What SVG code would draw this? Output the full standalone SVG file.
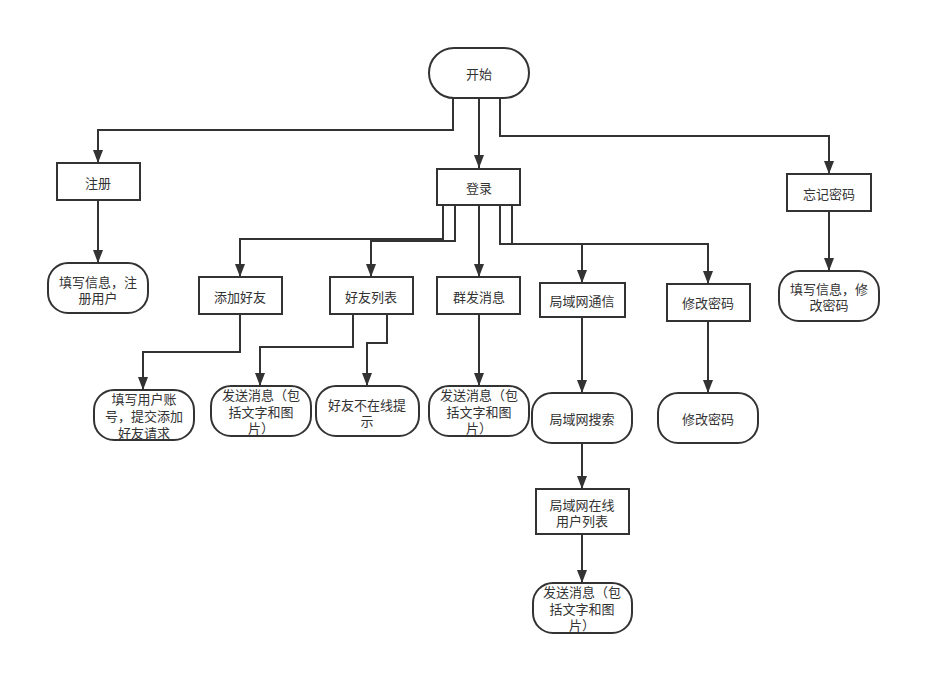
<svg xmlns="http://www.w3.org/2000/svg" width="941" height="695" viewBox="0 0 941 695">
<defs>
<marker id="arr" viewBox="0 0 13 10" markerWidth="13" markerHeight="10" refX="13" refY="5" orient="auto" markerUnits="userSpaceOnUse">
<path d="M0,0 L13,5 L0,10 z" fill="#333"/>
</marker>
<style>
.box{fill:#fff;stroke:#333;stroke-width:2}
.t{font-family:"Noto Sans CJK SC","Noto Sans",sans-serif;font-size:13px;fill:#333;text-anchor:middle;dominant-baseline:central}
.c{fill:none;stroke:#333;stroke-width:2;marker-end:url(#arr)}
</style>
</defs>
<rect width="941" height="695" fill="#fff"/>
<g id="connectors">
<path class="c" d="M453,98 V130 H98 V163"/>
<path class="c" d="M479,98 V168"/>
<path class="c" d="M500,98 V136 H829 V174"/>
<path class="c" d="M98,200 V263"/>
<path class="c" d="M829,211 V271"/>
<path class="c" d="M443,205 V239 H240 V277"/>
<path class="c" d="M455,205 V241 H371 V277"/>
<path class="c" d="M479,205 V277"/>
<path class="c" d="M500,205 V244 H582 V283"/>
<path class="c" d="M512,205 V244 H708 V284"/>
<path class="c" d="M240,314 V352 H143 V390"/>
<path class="c" d="M353,314 V347 H260 V386"/>
<path class="c" d="M387,314 V343 H367 V386"/>
<path class="c" d="M479,314 V386"/>
<path class="c" d="M582,317 V393"/>
<path class="c" d="M708,321 V393"/>
<path class="c" d="M582,443 V489"/>
<path class="c" d="M582,534 V583"/>
</g>
<g id="start"><rect class="box" x="429" y="48" width="100" height="50" rx="25"/><text class="t" x="479" y="73">开始</text></g>
<g id="register"><rect class="box" x="57" y="163" width="83" height="37"/><text class="t" x="98" y="182">注册</text></g>
<g id="login"><rect class="box" x="437" y="169" width="83" height="36"/><text class="t" x="479" y="187">登录</text></g>
<g id="forgot"><rect class="box" x="787" y="174" width="84" height="37"/><text class="t" x="829" y="193">忘记密码</text></g>
<g id="reg-fill"><rect class="box" x="48" y="263" width="100" height="50" rx="20"/><text class="t" x="98" y="281">填写信息，注<tspan x="98" y="297">册用户</tspan></text></g>
<g id="forgot-fill"><rect class="box" x="779" y="271" width="100" height="50" rx="20"/><text class="t" x="829" y="288">填写信息，修<tspan x="829" y="304">改密码</tspan></text></g>
<g id="add-friend"><rect class="box" x="199" y="277" width="83" height="37"/><text class="t" x="240" y="296">添加好友</text></g>
<g id="friend-list"><rect class="box" x="330" y="277" width="83" height="37"/><text class="t" x="371" y="296">好友列表</text></g>
<g id="group-msg"><rect class="box" x="437" y="277" width="83" height="37"/><text class="t" x="479" y="296">群发消息</text></g>
<g id="lan"><rect class="box" x="540" y="283" width="85" height="34"/><text class="t" x="582" y="300">局域网通信</text></g>
<g id="change-pw"><rect class="box" x="667" y="284" width="83" height="37"/><text class="t" x="708" y="302">修改密码</text></g>
<g id="add-fill"><rect class="box" x="94" y="390" width="100" height="50" rx="20"/><text class="t" x="144" y="398">填写用户账<tspan x="144" y="415">号，提交添加</tspan><tspan x="144" y="432">好友请求</tspan></text></g>
<g id="send1"><rect class="box" x="211" y="386" width="100" height="50" rx="20"/><text class="t" x="261" y="394">发送消息（包<tspan x="261" y="411">括文字和图</tspan><tspan x="261" y="427">片）</tspan></text></g>
<g id="offline"><rect class="box" x="316" y="386" width="103" height="50" rx="20"/><text class="t" x="367" y="404">好友不在线提<tspan x="367" y="420">示</tspan></text></g>
<g id="send2"><rect class="box" x="429" y="386" width="100" height="50" rx="20"/><text class="t" x="479" y="394">发送消息（包<tspan x="479" y="411">括文字和图</tspan><tspan x="479" y="427">片）</tspan></text></g>
<g id="lan-search"><rect class="box" x="532" y="393" width="100" height="50" rx="20"/><text class="t" x="582" y="418">局域网搜索</text></g>
<g id="change-pw2"><rect class="box" x="658" y="393" width="100" height="50" rx="20"/><text class="t" x="708" y="418">修改密码</text></g>
<g id="lan-users"><rect class="box" x="536" y="489" width="93" height="45"/><text class="t" x="582" y="504">局域网在线<tspan x="582" y="520">用户列表</tspan></text></g>
<g id="send3"><rect class="box" x="533" y="583" width="99" height="50" rx="20"/><text class="t" x="582" y="591">发送消息（包<tspan x="582" y="608">括文字和图</tspan><tspan x="582" y="624">片）</tspan></text></g>
</svg>
